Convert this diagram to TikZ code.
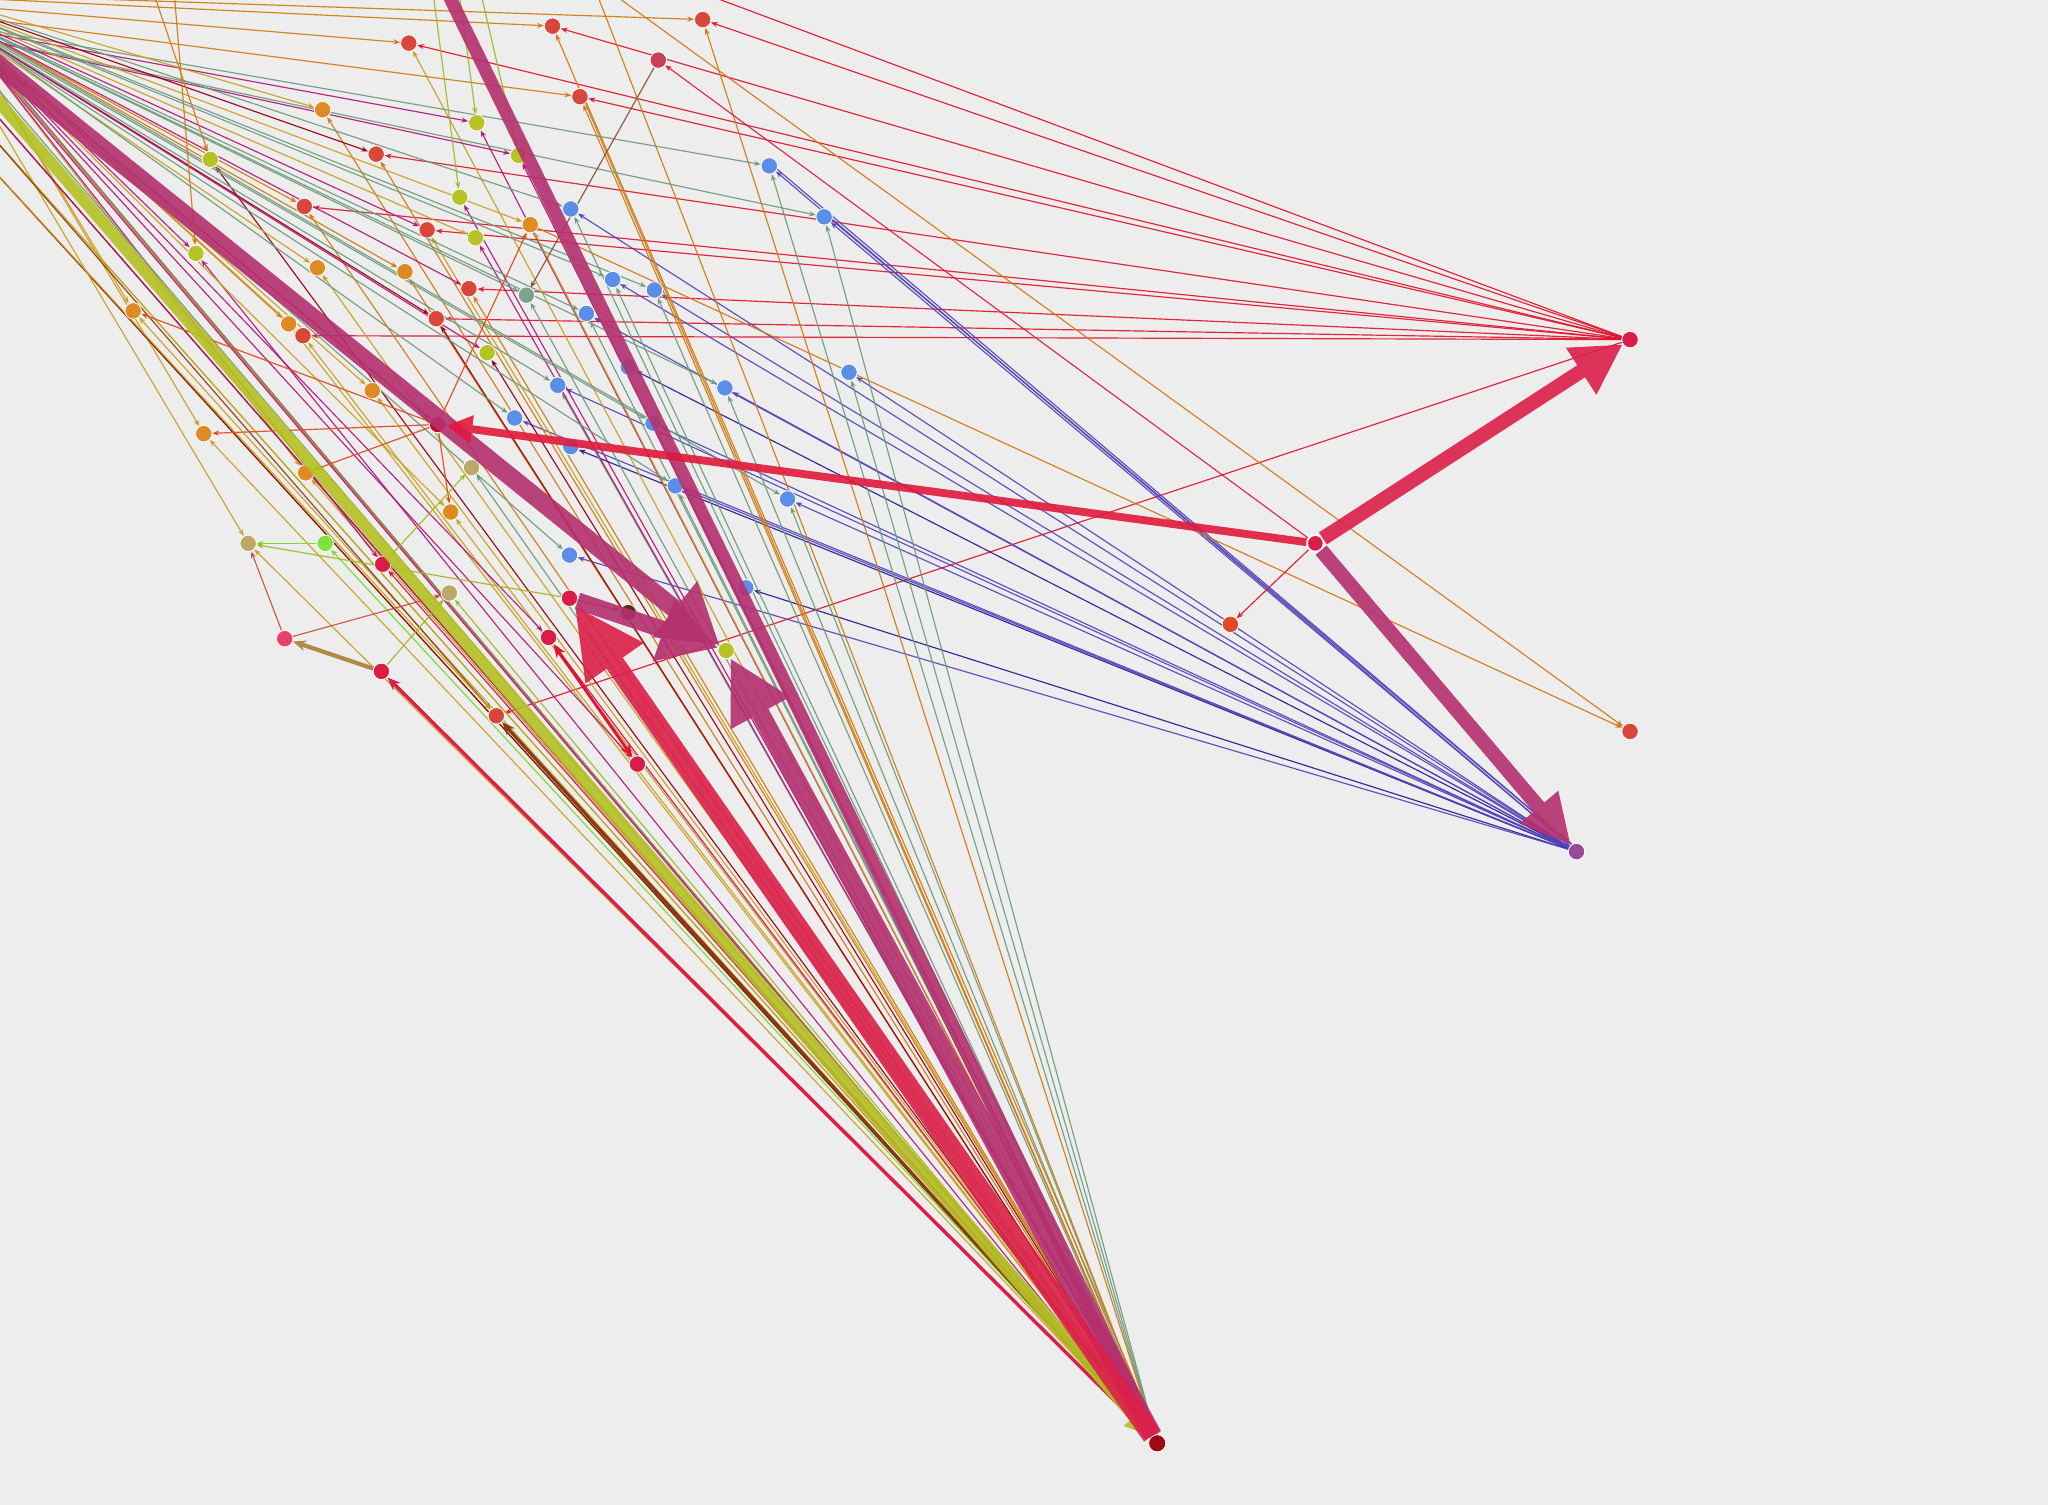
\documentclass[tikz,border=0pt]{standalone}
\usetikzlibrary{arrows.meta}
\definecolor{bgc}{HTML}{EDEDED}
\definecolor{fRed}{HTML}{D9473A}
\definecolor{fOrg}{HTML}{DF8A22}
\definecolor{fYG}{HTML}{B5C424}
\definecolor{fBlue}{HTML}{5A8EE8}
\definecolor{fCrim}{HTML}{DC1C48}
\definecolor{fTan}{HTML}{BCA868}
\definecolor{fPur}{HTML}{9A4898}
\definecolor{fHub}{HTML}{A00A14}
\definecolor{fO2}{HTML}{E2482A}
\definecolor{fN1}{HTML}{C4081E}
\definecolor{fN4}{HTML}{5A3010}
\definecolor{fN5}{HTML}{E8406A}
\definecolor{fLim}{HTML}{7EE23A}
\definecolor{fGG}{HTML}{7FA08A}
\definecolor{fN44}{HTML}{C84058}
\definecolor{cRed}{HTML}{E0142C}
\definecolor{cCrim}{HTML}{D0104A}
\definecolor{cOrg}{HTML}{D07A10}
\definecolor{cOch}{HTML}{C8A020}
\definecolor{cGrn}{HTML}{6F9A7C}
\definecolor{cMag}{HTML}{B0187A}
\definecolor{cBlu}{HTML}{5444B8}
\definecolor{cNav}{HTML}{2A1A90}
\definecolor{cOli}{HTML}{A0B820}
\definecolor{cBrn}{HTML}{8A3A10}
\definecolor{cLim}{HTML}{78D830}
\definecolor{cDrd}{HTML}{900010}
\definecolor{cRO}{HTML}{E04818}
\definecolor{cTan}{HTML}{B08848}
\definecolor{cRB}{HTML}{C85040}
\definecolor{tMag}{HTML}{B5306F}
\definecolor{tCrim}{HTML}{DC1F4A}
\definecolor{tRed}{HTML}{E01A3C}
\definecolor{tYG}{HTML}{B5C024}
\pgfdeclarelayer{bg}
\pgfdeclarelayer{edges}
\pgfdeclarelayer{top}
\pgfsetlayers{bg,edges,main,top}
\tikzset{
  nd/.style={circle,inner sep=0pt,minimum size=6.3pt,draw=white,line width=0.3pt},
  e/.style={line width=0.45pt,draw opacity=0.92,-{Stealth[length=2.6pt,width=2pt]}},
  ee/.style={line width=0.45pt,draw opacity=0.92},
  fat/.style={transparency group,opacity=0.9},
  med/.style={-{Stealth[length=5pt,width=4pt]}}
}
\begin{document}
\begin{tikzpicture}[x=0.5pt,y=-0.5pt]
\begin{pgfonlayer}{bg}
\fill[bgc] (0,0) rectangle (1568,1152);
\end{pgfonlayer}
\useasboundingbox (0,0) rectangle (1568,1152);

% off-canvas sources
\coordinate (S0) at (-200,-10);
\coordinate (S1) at (-90,-15);
\coordinate (S2) at (-60,0);
\coordinate (S3) at (-40,10);
\coordinate (S4) at (-30,20);
\coordinate (S5) at (-20,30);
\coordinate (S6) at (-10,80);
\coordinate (S7) at (-10,100);
\coordinate (S8) at (-10,125);
\coordinate (Ta) at (116,-10);
\coordinate (Tb) at (133,-10);
\coordinate (Tc) at (331,-10);
\coordinate (Td) at (351,-10);
\coordinate (Te) at (367,-10);
\coordinate (Tf) at (462,-10);
\coordinate (Tf2) at (455,-10);
\coordinate (Tg) at (520,-12);
\coordinate (Tmag) at (338,-15);
\coordinate (Sbig) at (-40,18);
\coordinate (Syg) at (-20,56);

% hubs
\node[nd,fill=fHub,minimum size=6.6pt] (B) at (886,1105) {};
\node[nd,fill=fCrim] (R1) at (1248,260) {};
\node[nd,fill=fCrim,line width=0.6pt] (M) at (1007,416) {};
\node[nd,fill=fPur] (P) at (1207,652) {};
\node[nd,fill=fRed] (O1) at (1248,560) {};
\node[nd,fill=fO2] (O2) at (942,478) {};
% other nodes
\node[nd,fill=fN1] (n1) at (335,325) {};
\node[nd,fill=fYG] (n2) at (556,498) {};
\node[nd,fill=fCrim] (n3) at (436,458) {};
\node[nd,fill=fN4] (n4) at (481,469) {};
\node[nd,fill=fN5] (n5) at (218,489) {};
\node[nd,fill=fCrim] (n6) at (292,514) {};
\node[nd,fill=fRed] (n7) at (380,548) {};
\node[nd,fill=fCrim] (n8) at (488,585) {};
\node[nd,fill=fCrim] (n9) at (420,488) {};
\node[nd,fill=fTan] (n10) at (190,416) {};
\node[nd,fill=fLim] (n11) at (249,416) {};
\node[nd,fill=fCrim] (n12) at (293,432) {};
\node[nd,fill=fTan] (n13) at (344,454) {};
\node[nd,fill=fBlue] (n14) at (436,425) {};
\node[nd,fill=fOrg] (n15) at (156,332) {};
\node[nd,fill=fOrg] (n16) at (234,362) {};
\node[nd,fill=fOrg] (n17) at (345,392) {};
\node[nd,fill=fTan] (n18) at (361,358) {};
\node[nd,fill=fOrg] (n19) at (102,238) {};
\node[nd,fill=fYG] (n20) at (150,194) {};
\node[nd,fill=fYG] (n21) at (161,122) {};
\node[nd,fill=fOrg] (n22) at (247,84) {};
\node[nd,fill=fRed] (n23) at (288,118) {};
\node[nd,fill=fRed] (n24) at (233,158) {};
\node[nd,fill=fOrg] (n25) at (243,205) {};
\node[nd,fill=fOrg] (n26) at (221,248) {};
\node[nd,fill=fRed] (n27) at (232,257) {};
\node[nd,fill=fOrg] (n28) at (285,299) {};
\node[nd,fill=fOrg] (n29) at (310,208) {};
\node[nd,fill=fRed] (n30) at (327,176) {};
\node[nd,fill=fRed] (n31) at (334,244) {};
\node[nd,fill=fRed] (n32) at (359,221) {};
\node[nd,fill=fYG] (n33) at (364,182) {};
\node[nd,fill=fYG] (n34) at (352,151) {};
\node[nd,fill=fYG] (n35) at (365,94) {};
\node[nd,fill=fYG] (n36) at (397,119) {};
\node[nd,fill=fOrg] (n37) at (406,172) {};
\node[nd,fill=fGG] (n38) at (403,226) {};
\node[nd,fill=fYG] (n39) at (373,270) {};
\node[nd,fill=fRed] (n40) at (423,20) {};
\node[nd,fill=fRed] (n41) at (313,33) {};
\node[nd,fill=fRed] (n42) at (444,74) {};
\node[nd,fill=fRed] (n43) at (538,15) {};
\node[nd,fill=fN44] (n44) at (504,46) {};
\foreach \n/\x/\y in {b1/437/160,b2/469/214,b3/501/222,b4/449/240,b5/481/281,
  b6/427/295,b7/394/320,b8/437/342,b9/500/324,b10/555/297,b11/517/372,
  b12/603/382,b13/589/127,b14/631/166,b15/650/285,b16/571/450}
  \node[nd,fill=fBlue] (\n) at (\x,\y) {};

\begin{pgfonlayer}{edges}
% R1 red fan
\foreach \t in {n43,n40,n41,n42,n23,n24,n30,n32,n31,n27,n7}
  \draw[e,cRed] (R1) -- (\t);
\draw[ee,cRed] (R1) -- (Tg);
% P blue fan
\foreach \t/\c in {b1/cBlu,b2/cBlu,b3/cBlu,b4/cBlu,b5/cNav,b6/cBlu,b7/cBlu,b8/cNav,
  b9/cBlu,b10/cBlu,b11/cBlu,b12/cBlu,b13/cBlu,b14/cBlu,b15/cBlu,b16/cNav,n14/cBlu}
  \draw[e,\c] (P) -- (\t);
\draw[ee,cBlu] ([xshift=1.5]P.center) -- ([xshift=1.5]b14.center);
\draw[ee,cBlu] ([xshift=1.5]P.center) -- ([xshift=1.5]b13.center);
% B fan
\foreach \t/\c in {b13/cGrn,b14/cGrn,b15/cGrn,b12/cGrn,b10/cGrn,b9/cGrn,b11/cGrn,
  b2/cGrn,b3/cGrn,b4/cGrn,b6/cGrn,b1/cGrn,n38/cGrn,n18/cGrn,n13/cOli,
  n42/cOrg,n43/cOrg,n40/cOrg,n22/cOrg,n35/cMag,n36/cMag,n20/cMag,n33/cMag,
  n21/cDrd,n24/cOrg,n25/cOch,n27/cOch,n19/cOch,n15/cOch,n16/cOch,n17/cOch,
  n28/cOch,n29/cOrg,n30/cOch,n31/cDrd,n32/cOrg,n37/cOch,n39/cDrd,n11/cLim,
  n10/cOch,n12/cCrim,n26/cOch,n34/cMag,n23/cOrg,n41/cOch,n9/cCrim}
  \draw[e,\c] (B) -- (\t);
\draw[ee,cOrg] ([xshift=1.5]B.center) -- ([xshift=1.5]n42.center);
\draw[ee,cOrg] (B) -- (Tf2);
% left fan
\foreach \t/\c in {n43/cOrg,n40/cOrg,n41/cOrg,n42/cOrg,n35/cMag,n36/cMag,b13/cGrn,b14/cGrn}
  \draw[e,\c] (S0) -- (\t);
\foreach \t/\c in {n22/cOch,n23/cDrd,b1/cGrn,n33/cOch,n37/cOch,n30/cMag,b2/cGrn,b3/cGrn}
  \draw[e,\c] (S1) -- (\t);
\foreach \t/\c in {n24/cOrg,n25/cOch,n32/cMag,n31/cDrd,b4/cGrn,b6/cGrn,n39/cMag,b9/cGrn,b11/cGrn,n1/cDrd}
  \draw[e,\c] (S2) -- (\t);
\foreach \t/\c in {n20/cMag,n26/cOrg,n27/cOch,n28/cOch,n29/cOrg,b7/cGrn,n14/cGrn,b12/cGrn,n38/cGrn,b10/cGrn}
  \draw[e,\c] (S3) -- (\t);
\foreach \t/\c in {n19/cOch,n15/cOch,n16/cOch,n17/cOch,n12/cMag,n9/cMag,n8/cMag}
  \draw[e,\c] (S4) -- (\t);
\foreach \s/\c in {S5/cOch,S5/cMag,S5/cGrn,S6/cOrg,S6/cBrn,S6/cMag,S7/cOli,S7/cOch,S8/cLim,S8/cOch,S8/cDrd,S4/cOrg,S3/cMag,S2/cGrn}
  \draw[e,\c] (\s) -- (B);
\draw[e,cOch] (S6) -- (n10);
\draw[e,cBrn] (S7) -- (n7);
\draw[e,cOch] (S8) -- (n7);
% top edge sources
\draw[e,cOrg] (Ta) -- (n21);
\draw[e,cOrg] (Tb) -- (n20);
\draw[e,cOli] (Tc) -- (n34);
\draw[e,cOli] (Td) -- (n35);
\draw[e,cOli] (Te) -- (n36);
\draw[e,cOrg] (Tf) -- (O1);
\draw[e,cOrg] (n37) -- (O1);
% local edges
\draw[e,cBrn!70!gray] (n44) -- (n38);
\draw[e,fCrim] (M) -- (n44);
\draw[e,cRed] (M) -- (O2);
\foreach \t in {n19,n15,n16,n17,n37}
  \draw[e,cRO] (n1) -- (\t);
\draw[e,cLim] (n11) -- (n10);
\draw[e,cRB] (n5) -- (n10);
\draw[e,cRB] (n5) -- (n13);
\draw[e,cOli] (n6) -- (n13);
\draw[e,cOli] (n12) -- (n18);
\draw[e,cOli] (n3) -- (n10);
\draw[e,cBrn] (n3) -- (n4);
\draw[med,cTan,line width=1.6pt] (n6) -- (n5);
\draw[med,tCrim,line width=1.3pt] (B) -- (n6);
\draw[med,cBrn,line width=1.2pt] (B) -- (n7);
\draw[{Stealth[length=5pt,width=4pt]}-{Stealth[length=5pt,width=4pt]},cRed,line width=1.1pt] (n8) -- (n9);
\end{pgfonlayer}

\begin{pgfonlayer}{top}
\begin{scope}[fat]
\draw[tMag,line width=5pt] (B) -- (Tmag);
\end{scope}
\begin{scope}[fat]
\draw[tYG,line width=4.5pt,-{Triangle[length=10pt,width=10pt]}] (Syg) -- (B);
\end{scope}
\begin{scope}[fat]
\draw[tMag,line width=7pt,-{Triangle[length=22pt,width=26pt]}] (Sbig) -- (n2);
\end{scope}
\begin{scope}[fat]
\draw[tMag,line width=7pt,-{Triangle[length=24pt,width=24pt]}] (B) -- (n2);
\end{scope}
\begin{scope}[fat]
\draw[tCrim,line width=7.5pt,-{Triangle[length=27pt,width=25pt]}] (B) -- (n3);
\end{scope}
\begin{scope}[fat]
\draw[tMag,line width=6.5pt,-{Triangle[length=22pt,width=24pt]}] (n3) -- (n2);
\end{scope}
\begin{scope}[fat]
\draw[tRed,line width=3pt,-{Triangle[length=10pt,width=10pt]}] (M) -- (n1);
\end{scope}
\begin{scope}[fat]
\draw[tCrim,line width=5.5pt,-{Triangle[length=19pt,width=20pt]}] (M) -- (R1);
\end{scope}
\begin{scope}[fat]
\draw[tMag,line width=5.5pt,-{Triangle[length=19pt,width=18pt]}] (M) -- (P);
\end{scope}
\end{pgfonlayer}
\end{tikzpicture}
\end{document}
